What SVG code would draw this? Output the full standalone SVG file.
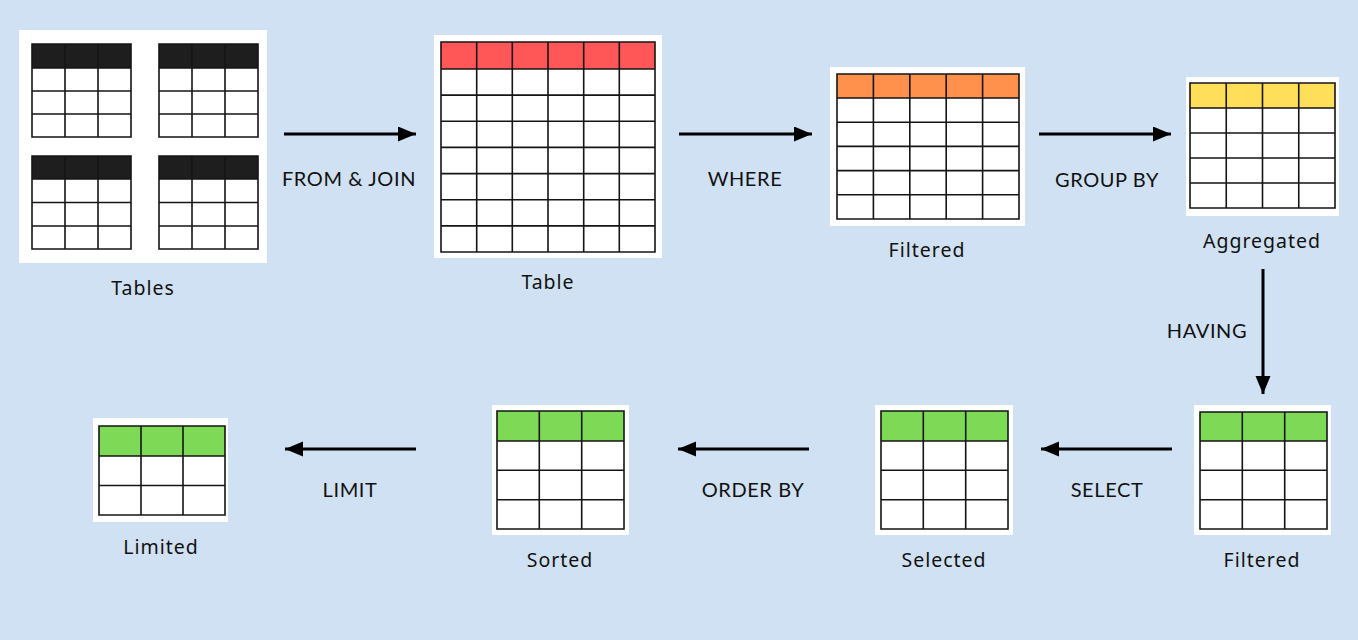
<svg xmlns="http://www.w3.org/2000/svg" width="1358" height="640" viewBox="0 0 1358 640">
<defs>
<style>
.bg{fill:#cfe1f2}
.card{fill:#ffffff}
.grid{fill:none;stroke:#151515;stroke-width:1.6}
.blk{fill:#1e1e1e}
.red{fill:#ff5757}
.org{fill:#ff914d}
.yel{fill:#ffde59}
.grn{fill:#7ed957}
.lbl{font-family:"Noto Sans","DejaVu Sans",sans-serif;font-size:19.5px;fill:#111;text-anchor:middle;letter-spacing:1px}
.op{font-family:Lato,"Liberation Sans",sans-serif;font-size:20px;fill:#111;text-anchor:middle;letter-spacing:0.6px}
.arr{stroke:#000;stroke-width:3;fill:none;marker-end:url(#ah)}
</style>
<marker id="ah" markerUnits="userSpaceOnUse" markerWidth="20" markerHeight="16" refX="18" refY="7.5" orient="auto">
<path d="M0,0 L18,7.5 L0,15 Z" fill="#000"/>
</marker>
</defs>
<rect class="bg" x="0" y="0" width="1358" height="640"/>

<g id="tables">
<rect class="card" x="19" y="30" width="248" height="233"/>
<rect class="blk" x="32" y="44" width="99" height="24"/>
<rect class="blk" x="159" y="44" width="99" height="24"/>
<rect class="blk" x="32" y="156" width="99" height="23"/>
<rect class="blk" x="159" y="156" width="99" height="23"/>
<path class="grid" d="M32,44H131V137H32Z M32,68H131 M32,91H131 M32,114H131 M65,44V137 M98,44V137"/>
<path class="grid" d="M159,44H258V137H159Z M159,68H258 M159,91H258 M159,114H258 M192,44V137 M225,44V137"/>
<path class="grid" d="M32,156H131V249H32Z M32,179H131 M32,202.5H131 M32,226H131 M65,156V249 M98,156V249"/>
<path class="grid" d="M159,156H258V249H159Z M159,179H258 M159,202.5H258 M159,226H258 M192,156V249 M225,156V249"/>
<text class="lbl" x="143" y="295">Tables</text>
</g>

<g id="table">
<rect class="card" x="434" y="35" width="228" height="223"/>
<rect class="red" x="441" y="42" width="214" height="27"/>
<path class="grid" d="M441,42H655V252H441Z M441,69H655 M441,95.1H655 M441,121.3H655 M441,147.4H655 M441,173.6H655 M441,199.7H655 M441,225.9H655 M476.7,42V252 M512.3,42V252 M548,42V252 M583.7,42V252 M619.3,42V252"/>
<text class="lbl" x="548" y="289">Table</text>
</g>

<g id="filtered1">
<rect class="card" x="830" y="67" width="195" height="159"/>
<rect class="org" x="837" y="74" width="182" height="24"/>
<path class="grid" d="M837,74H1019V219H837Z M837,98H1019 M837,122.2H1019 M837,146.4H1019 M837,170.6H1019 M837,194.8H1019 M873.4,74V219 M909.8,74V219 M946.2,74V219 M982.6,74V219"/>
<text class="lbl" x="927" y="257">Filtered</text>
</g>

<g id="aggregated">
<rect class="card" x="1186" y="77" width="153" height="139"/>
<rect class="yel" x="1190" y="83" width="145" height="25"/>
<path class="grid" d="M1190,83H1335V208H1190Z M1190,108H1335 M1190,133H1335 M1190,158H1335 M1190,183H1335 M1226.25,83V208 M1262.5,83V208 M1298.75,83V208"/>
<text class="lbl" x="1262" y="248">Aggregated</text>
</g>

<g id="filtered2">
<rect class="card" x="1194" y="405" width="137" height="130"/>
<rect class="grn" x="1200" y="412" width="127" height="29"/>
<path class="grid" d="M1200,412H1327V529H1200Z M1200,441H1327 M1200,470.3H1327 M1200,499.7H1327 M1242.3,412V529 M1284.7,412V529"/>
<text class="lbl" x="1262" y="567">Filtered</text>
</g>

<g id="selected">
<rect class="card" x="875" y="405" width="138" height="130"/>
<rect class="grn" x="881" y="411" width="127" height="30"/>
<path class="grid" d="M881,411H1008V529H881Z M881,441H1008 M881,470.3H1008 M881,499.7H1008 M923.3,411V529 M965.7,411V529"/>
<text class="lbl" x="944" y="567">Selected</text>
</g>

<g id="sorted">
<rect class="card" x="492" y="405" width="137" height="130"/>
<rect class="grn" x="497" y="411" width="127" height="30"/>
<path class="grid" d="M497,411H624V529H497Z M497,441H624 M497,470.3H624 M497,499.7H624 M539.3,411V529 M581.7,411V529"/>
<text class="lbl" x="560" y="567">Sorted</text>
</g>

<g id="limited">
<rect class="card" x="93" y="418" width="135" height="104"/>
<rect class="grn" x="99" y="426" width="126" height="30"/>
<path class="grid" d="M99,426H225V515H99Z M99,456H225 M99,485.5H225 M141,426V515 M183,426V515"/>
<text class="lbl" x="161" y="554">Limited</text>
</g>

<g id="connectors">
<line class="arr" x1="284" y1="134" x2="416" y2="134"/>
<line class="arr" x1="679" y1="134" x2="812" y2="134"/>
<line class="arr" x1="1039" y1="134" x2="1171" y2="134"/>
<line class="arr" x1="1263" y1="269" x2="1263" y2="394"/>
<line class="arr" x1="1172" y1="449" x2="1041" y2="449"/>
<line class="arr" x1="809" y1="449" x2="678" y2="449"/>
<line class="arr" x1="416" y1="449" x2="285" y2="449"/>
<text class="op" x="349" y="186">FROM &amp; JOIN</text>
<text class="op" x="745" y="186">WHERE</text>
<text class="op" x="1107" y="187">GROUP BY</text>
<text class="op" x="1207" y="338">HAVING</text>
<text class="op" x="1107" y="497">SELECT</text>
<text class="op" x="753" y="497">ORDER BY</text>
<text class="op" x="350" y="497">LIMIT</text>
</g>
</svg>
